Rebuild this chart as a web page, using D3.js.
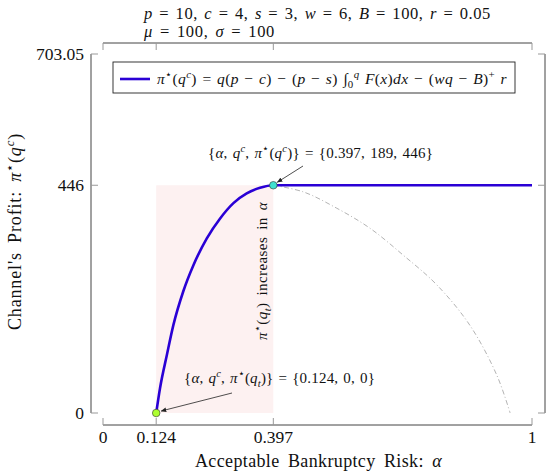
<!DOCTYPE html>
<html><head><meta charset="utf-8">
<script src="https://cdn.jsdelivr.net/npm/d3@7"></script>
<style>
body{margin:0;background:#fff;}
text{font-family:"Liberation Serif","DejaVu Serif",serif;fill:#111;}
</style></head>
<body><svg id="chart" width="550" height="475"></svg>
<script>
// ---- data ----
const xTicks = [0, 0.124, 0.397, 1];
const xTickLabels = ["0", "0.124", "0.397", "1"];
const yTicks = [0, 446, 703.05];
const yTickLabels = ["0", "446", "703.05"];
const profitAlpha = [0.124, 0.133, 0.149, 0.164, 0.187, 0.211, 0.242, 0.273, 0.304, 0.335, 0.366, 0.397, 1];
const profitValue = [0, 49, 114, 172, 238, 290, 342, 381, 411, 430, 441, 446, 446];
const ghostAlpha = [0.397, 0.467, 0.545, 0.622, 0.700, 0.778, 0.855, 0.918, 0.949];
const ghostValue = [446, 433, 401, 362, 309, 251, 172, 74, 0];
const shadeAlpha = [0.124, 0.397];
const shadeValue = [0, 446];
const markerAlpha = [0.124, 0.397];
const markerValue = [0, 446];
const markerColors = ["#adff2f", "#40e0d0"];

const svg = d3.select("#chart");
const X0 = 103, X1 = 532, Y0 = 413, Y1 = 54, SHIFT = 12;
const x = d3.scaleLinear().domain([0, 1]).range([X0, X1]);
const y = d3.scaleLinear().domain([0, 703.05]).range([Y0, Y1]);

// rich text helper: segments [text, flags, dx]; flags: i italic, ^ sup, _ sub
function rich(sel, segs, size) {
  let cur = 0;
  sel.attr("font-size", size);
  segs.forEach(([t, f, dx]) => {
    f = f || "";
    const small = f.includes("^") || f.includes("_");
    const off = f.includes("^") ? -0.38 * size : f.includes("_") ? 0.28 * size : 0;
    const ts = sel.append("tspan").text(t)
      .attr("font-size", small ? size * 0.7 : size)
      .attr("dy", off - cur);
    if (f.includes("i")) ts.attr("font-style", "italic");
    if (dx) ts.attr("dx", dx);
    cur = off;
  });
  return sel;
}
// stretch text to reference width: part into word gaps, rest into letter gaps
function fit(sel, target, size) {
  const node = sel.node();
  const w = node.getComputedTextLength();
  const txt = node.textContent;
  const n = txt.length;
  const ns = (txt.match(/ /g) || []).length;
  let extra = target - w;
  let wordPart = 0;
  if (ns > 0 && extra > 0) {
    wordPart = Math.min(extra * 0.5, ns * 0.22 * size);
    sel.attr("word-spacing", (wordPart / ns).toFixed(3));
  }
  if (n > 1) sel.attr("letter-spacing", ((extra - wordPart) / n).toFixed(3));
  return sel;
}

// shaded region
svg.append("rect")
  .attr("x", x(shadeAlpha[0])).attr("width", x(shadeAlpha[1]) - x(shadeAlpha[0]))
  .attr("y", y(shadeValue[1])).attr("height", y(shadeValue[0]) - y(shadeValue[1]))
  .attr("fill", "#fdf1f1");

// axis lines (separated frame)
const axC = "#444";
svg.append("line").attr("x1", X0).attr("x2", X1).attr("y1", Y0 + SHIFT).attr("y2", Y0 + SHIFT).attr("stroke", axC);
svg.append("line").attr("x1", X0).attr("x2", X1).attr("y1", Y1 - 11).attr("y2", Y1 - 11).attr("stroke", axC);
svg.append("line").attr("x1", X0 - SHIFT).attr("x2", X0 - SHIFT).attr("y1", Y1).attr("y2", Y0).attr("stroke", axC);
svg.append("line").attr("x1", X1 + 13).attr("x2", X1 + 13).attr("y1", Y1).attr("y2", Y0).attr("stroke", axC);

// ticks
const tkC = "#999";
xTicks.forEach(v => {
  svg.append("line").attr("x1", x(v)).attr("x2", x(v)).attr("y1", Y0 + SHIFT).attr("y2", Y0 + SHIFT - 7).attr("stroke", tkC);
  svg.append("line").attr("x1", x(v)).attr("x2", x(v)).attr("y1", Y1 - 11).attr("y2", Y1 - 4).attr("stroke", tkC);
});
yTicks.forEach(v => {
  svg.append("line").attr("x1", X0 - SHIFT).attr("x2", X0 - SHIFT + 7).attr("y1", y(v)).attr("y2", y(v)).attr("stroke", tkC);
  svg.append("line").attr("x1", X1 + 13).attr("x2", X1 + 6).attr("y1", y(v)).attr("y2", y(v)).attr("stroke", tkC);
});
xTicks.forEach((v, i) => {
  svg.append("text").attr("x", x(v)).attr("y", Y0 + SHIFT + 18).attr("text-anchor", "middle")
    .attr("font-size", 17.5).text(xTickLabels[i]);
});
yTicks.forEach((v, i) => {
  svg.append("text").attr("x", X0 - SHIFT - 7).attr("y", y(v) + 5.5).attr("text-anchor", "end")
    .attr("font-size", 17.5).text(yTickLabels[i]);
});

// ghost dash-dot curve
svg.append("path").datum(ghostAlpha.map((a, i) => [a, ghostValue[i]]))
  .attr("d", d3.line().x(d => x(d[0])).y(d => y(d[1])).curve(d3.curveCatmullRom))
  .attr("fill", "none").attr("stroke", "#aaa").attr("stroke-width", 0.9)
  .attr("stroke-dasharray", "5,2.5,1,2.5");

// main curve
const line = d3.line().x(d => x(d[0])).y(d => y(d[1])).curve(d3.curveMonotoneX);
svg.append("path").datum(profitAlpha.map((a, i) => [a, profitValue[i]]))
  .attr("d", line).attr("fill", "none").attr("stroke", "#2a00d5").attr("stroke-width", 2.6);

// markers
markerAlpha.forEach((a, i) => {
  svg.append("circle").attr("cx", x(a)).attr("cy", y(markerValue[i])).attr("r", 3.8)
    .attr("fill", markerColors[i]).attr("stroke", "#333").attr("stroke-width", 0.6);
});

// arrows
const defs = svg.append("defs");
defs.append("marker").attr("id", "ah").attr("viewBox", "0 0 10 10").attr("refX", 9).attr("refY", 5)
  .attr("markerWidth", 7).attr("markerHeight", 7).attr("orient", "auto")
  .append("path").attr("d", "M0,1 L10,5 L0,9 z").attr("fill", "#222");
svg.append("line").attr("x1", 303).attr("y1", 166).attr("x2", x(0.397) + 4).attr("y2", y(446) - 3)
  .attr("stroke", "#222").attr("stroke-width", 0.8).attr("marker-end", "url(#ah)");
svg.append("line").attr("x1", 232).attr("y1", 393).attr("x2", x(0.124) + 5).attr("y2", y(0) - 2)
  .attr("stroke", "#222").attr("stroke-width", 0.8).attr("marker-end", "url(#ah)");

// title
fit(rich(svg.append("text").attr("x", 144).attr("y", 18.5),
  [["p","i"],[" = 10, "],["c","i"],[" = 4, "],["s","i"],[" = 3, "],["w","i"],[" = 6, "],["B","i"],[" = 100, "],["r","i"],[" = 0.05"]], 16.5), 347, 16.5);
fit(rich(svg.append("text").attr("x", 144).attr("y", 36.5),
  [["μ","i"],[" = 100, "],["σ","i"],[" = 100"]], 16.5), 131, 16.5);

// legend
svg.append("rect").attr("x", 113).attr("y", 62).attr("width", 402).attr("height", 31)
  .attr("fill", "#fff").attr("stroke", "#222").attr("stroke-width", 0.9);
svg.append("line").attr("x1", 120).attr("x2", 150).attr("y1", 79).attr("y2", 79)
  .attr("stroke", "#2a00d5").attr("stroke-width", 2.6);
fit(rich(svg.append("text").attr("x", 157).attr("y", 84),
  [["π","i"],["⋆","^"],["("],["q","i"],["c","i^"],[") = "],["q","i"],["("],["p","i"],[" − "],["c","i"],[") − ("],["p","i"],[" − "],["s","i"],[") "],["∫"],["0","_"],["q","i^"],[" "],["F","i"],["("],["x","i"],[")"],["dx","i"],[" − ("],["w","i"],["q","i"],[" − "],["B","i"],[")"],["+","^"],[" "],["r","i"]], 15.5), 350, 15.5);

// annotations
fit(rich(svg.append("text").attr("x", 208).attr("y", 158),
  [["{"],["α","i"],[", "],["q","i"],["c","i^"],[", "],["π","i"],["⋆","^"],["("],["q","i"],["c","i^"],[")} = {0.397, 189, 446}"]], 15), 225, 15);
fit(rich(svg.append("text").attr("x", 184).attr("y", 383),
  [["{"],["α","i"],[", "],["q","i"],["c","i^"],[", "],["π","i"],["⋆","^"],["("],["q","i"],["t","i_"],[")} = {0.124, 0, 0}"]], 15), 191, 15);

fit(rich(svg.append("text").attr("transform", "translate(267,340) rotate(-90)"),
  [["π","i"],["⋆","^"],["("],["q","i"],["t","i_"],[") increases in "],["α","i"]], 15), 138, 15);

// axis labels
fit(rich(svg.append("text").attr("x", 195).attr("y", 467),
  [["Acceptable Bankruptcy Risk: "],["α","i"]], 18), 247, 18);
fit(rich(svg.append("text").attr("transform", "translate(21,330) rotate(-90)"),
  [["Channel's Profit: "],["π","i"],["⋆","^"],["("],["q","i"],["c","i^"],[")"]], 18), 197, 18);
</script></body></html>
